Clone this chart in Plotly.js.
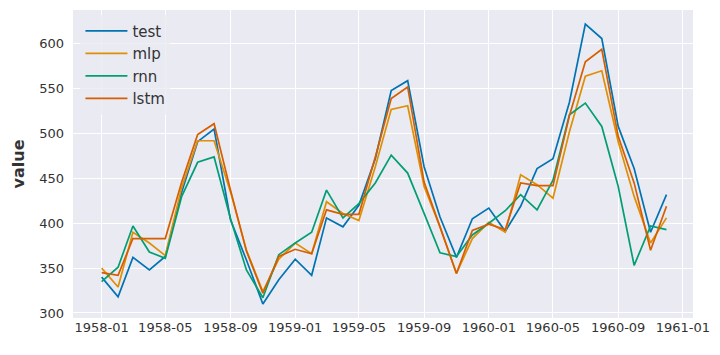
<!DOCTYPE html>
<html>
<head>
<meta charset="utf-8">
<script src="https://cdn.plot.ly/plotly-3.0.1.min.js"></script>
<style>html,body{margin:0;padding:0;background:#fff;}#chart{width:720px;height:355px;}</style>
</head>
<body>
<div id="chart"></div>
<script>
const months = [
  "1958-01-01","1958-02-01","1958-03-01","1958-04-01","1958-05-01","1958-06-01",
  "1958-07-01","1958-08-01","1958-09-01","1958-10-01","1958-11-01","1958-12-01",
  "1959-01-01","1959-02-01","1959-03-01","1959-04-01","1959-05-01","1959-06-01",
  "1959-07-01","1959-08-01","1959-09-01","1959-10-01","1959-11-01","1959-12-01",
  "1960-01-01","1960-02-01","1960-03-01","1960-04-01","1960-05-01","1960-06-01",
  "1960-07-01","1960-08-01","1960-09-01","1960-10-01","1960-11-01","1960-12-01"
];
const test = [340,318,362,348,363,435,491,505,404,359,310,337,
              360,342,406,396,420,472,548,559,463,407,362,405,
              417,391,419,461,472,535,622,606,508,461,390,432];
const mlp  = [350,329,390,378,364,440,492,492,435,370,324,360,
              378,366,424,411,403,463,527,531,441,396,344,383,
              401,390,454,443,428,502,564,570,491,430,378,406];
const rnn  = [335,351,397,368,361,430,468,474,405,348,317,365,
              378,390,437,406,422,445,476,456,411,367,363,387,
              400,414,432,415,448,521,534,508,441,353,397,393];
const lstm = [345,342,383,383,383,446,499,511,437,369,322,363,
              371,366,415,410,410,474,539,552,446,396,344,392,
              399,393,445,442,442,520,580,594,497,445,370,419];

const names = ["test","mlp","rnn","lstm"];
const series = [test, mlp, rnn, lstm];
const colors = ["#0173B2","#DE8F05","#029E73","#D55E00"];

const traces = series.map((s,i)=>({
  x: months, y: s, type: "scatter", mode: "lines", name: names[i],
  line: {color: colors[i], width: 1.7}
}));

const font = {family: "DejaVu Sans, sans-serif", size: 13, color: "#333"};
const layout = {
  width: 720, height: 355,
  margin: {l: 73, r: 27, t: 10, b: 37},
  paper_bgcolor: "#ffffff",
  plot_bgcolor: "#EAEAF2",
  font: font,
  showlegend: true,
  legend: {x: 0.012, y: 0.985, xanchor: "left", yanchor: "top",
           bgcolor: "rgba(234,234,242,0.8)", borderwidth: 0,
           font: {family: "DejaVu Sans, sans-serif", size: 15, color: "#333"},
           itemwidth: 42, tracegroupgap: 0},
  xaxis: {
    type: "date",
    range: ["1957-11-08", "1961-01-20"],
    tick0: "1958-01-01", dtick: "M4", tickformat: "%Y-%m",
    showgrid: true, gridcolor: "#ffffff", gridwidth: 1,
    zeroline: false, showline: false, ticks: "",
    tickfont: {family: "DejaVu Sans, sans-serif", size: 13, color: "#333"}
  },
  yaxis: {
    range: [294.4, 637.8],
    tick0: 300, dtick: 50,
    showgrid: true, gridcolor: "#ffffff", gridwidth: 1,
    zeroline: false, showline: false, ticks: "",
    ticklabelstandoff: 8,
    tickfont: {family: "DejaVu Sans, sans-serif", size: 13, color: "#333"},
    title: {text: "<b>value</b>", standoff: 10,
            font: {family: "DejaVu Sans, sans-serif", size: 16, color: "#333"}}
  }
};
Plotly.newPlot("chart", traces, layout, {displayModeBar: false, staticPlot: true});
</script>
</body>
</html>
